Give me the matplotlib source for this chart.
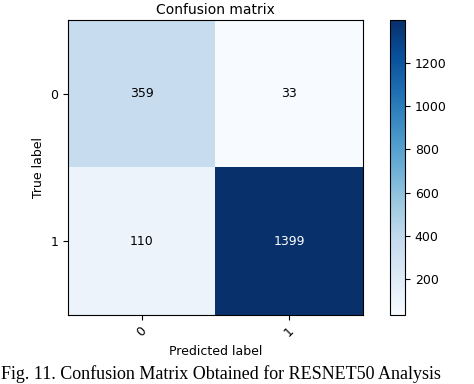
import numpy as np
import matplotlib.pyplot as plt

classes = ['0', '1']
cm = np.array([[359, 33],
               [110, 1399]])

fig = plt.figure(figsize=(4.74, 3.84), dpi=100)
ax = fig.add_axes([68 / 474, 1 - 315 / 384, 295 / 474, 295 / 384])
cax = fig.add_axes([390 / 474, 1 - 315 / 384, 15 / 474, 295 / 384])

im = ax.imshow(cm, interpolation='nearest', cmap=plt.cm.Blues, aspect='auto')
ax.set_title('Confusion matrix', fontsize=10, pad=4)
cb = fig.colorbar(im, cax=cax)
cb.ax.tick_params(labelsize=9)

ticks = np.arange(len(classes))
ax.set_xticks(ticks)
ax.set_xticklabels(classes, rotation=45, fontsize=9)
ax.set_yticks(ticks)
ax.set_yticklabels(classes, fontsize=9)

thresh = cm.max() / 2.
for i in range(cm.shape[0]):
    for j in range(cm.shape[1]):
        ax.text(j, i, format(cm[i, j], 'd'),
                ha='center', va='center', fontsize=9,
                color='white' if cm[i, j] > thresh else 'black')

ax.set_ylabel('True label', fontsize=9)
ax.set_xlabel('Predicted label', fontsize=9)

# caption from the paper
fig.text(0.003, 1 - 379 / 384, 'Fig. 11. Confusion Matrix Obtained for RESNET50 Analysis',
         family=['Liberation Serif', 'DejaVu Serif'], fontsize=13,
         va='baseline', ha='left')

fig.savefig('out.png', dpi=100)
